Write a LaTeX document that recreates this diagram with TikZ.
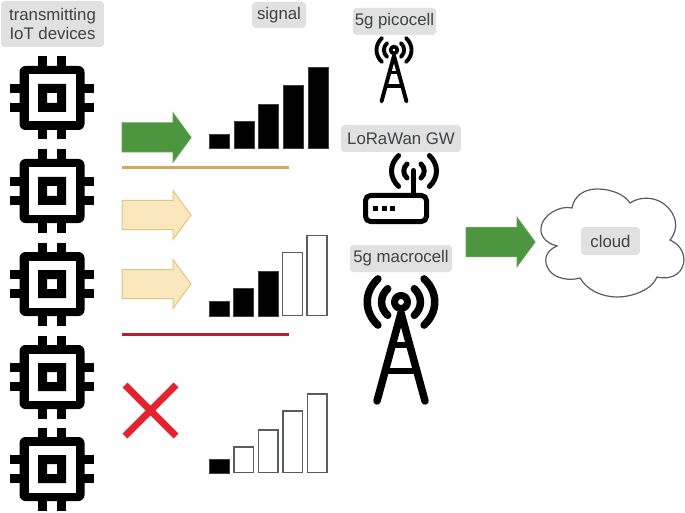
\documentclass[tikz,border=0pt]{standalone}
\usepackage{fontspec}
\setmainfont{Liberation Sans}
\usetikzlibrary{calc}
\definecolor{lblbg}{HTML}{E0E1E0}
\definecolor{lbltx}{HTML}{3F4245}
\definecolor{grn}{HTML}{4C963F}
\definecolor{grnd}{HTML}{5E9E50}
\definecolor{pale}{HTML}{FAE8BC}
\definecolor{paled}{HTML}{E2C582}
\definecolor{tan}{HTML}{D3A95F}
\definecolor{crim}{HTML}{B5202F}
\definecolor{xred}{HTML}{E5232F}
\definecolor{barline}{HTML}{5A5D5F}
\tikzset{
  lbl/.style={fill=lblbg,rounded corners=3.5pt,text=lbltx,font=\fontsize{16.8}{19.5}\selectfont,align=center,inner sep=0pt},
  onbar/.style={fill=black,draw=black!75,line width=.8pt},
  offbar/.style={fill=white,draw=barline,line width=1.5pt},
  rule/.style={line width=3pt},
  icon/.style={draw=black,line cap=round,line join=round},
}
\newcommand{\chipicon}[1]{%
  \begin{scope}[shift={(52,#1)}]
    \fill[black,rounded corners=6pt] (-32.5,-32) rectangle (32.5,32);
    \fill[white] (-23.5,-23.5) rectangle (23.5,23.5);
    \fill[black,even odd rule] (-14,-14) rectangle (14,14) (-5,-5) rectangle (5,5);
    \foreach \p in {-9.5,9.5}{
      \fill[black] (\p-4.5,-41.5) rectangle (\p+4.5,-30);
      \fill[black] (\p-4.5,30) rectangle (\p+4.5,41.5);
      \fill[black] (-42,\p-4.5) rectangle (-30,\p+4.5);
      \fill[black] (30,\p-4.5) rectangle (42,\p+4.5);
    }
  \end{scope}}
\newcommand{\bararrow}[4]{% y, fill, draw, x-offset
  \begin{scope}[shift={(#4,#1)}]
    \filldraw[fill=#2,draw=#3,line width=1pt,line join=miter]
      (122,-14.5) -- (173,-14.5) -- (173,-24.5) -- (191,0) -- (173,24.5) -- (173,14.5) -- (122,14.5) -- cycle;
  \end{scope}}
\newcommand{\towericon}[3]{% x,y,scale
  \begin{scope}[shift={(#1,#2)},x=#3pt,y=-#3pt]
    \draw[icon,line width=#3*7pt] (0,0) circle (6.5);
    \draw[icon,line width=#3*7.5pt] (-24,99) -- (0,11) -- (24,99);
    \draw[draw=black,line width=#3*6.5pt] (-11,43) -- (11,43) (-18,69) -- (18,69);
    \foreach \r in {19,33}{
      \draw[icon,line width=#3*7.5pt] (-\r*0.7,-\r*0.7) .. controls (-\r*1.13,-\r*0.3) and (-\r*1.13,\r*0.3) .. (-\r*0.7,\r*0.7);
      \draw[icon,line width=#3*7.5pt] (\r*0.7,-\r*0.7) .. controls (\r*1.13,-\r*0.3) and (\r*1.13,\r*0.3) .. (\r*0.7,\r*0.7);
    }
  \end{scope}}
\begin{document}
\begin{tikzpicture}[x=1pt,y=-1pt]
\useasboundingbox[fill=white] (0,0) rectangle (685,513);

% labels
\node[lbl,minimum width=103pt,minimum height=46pt] (ltx) at (52.5,24) {transmitting\\IoT devices};
\node[lbl,minimum width=54pt,minimum height=26pt] (lsig) at (279,15) {signal};
\node[lbl,minimum width=83pt,minimum height=27pt] (lpico) at (394.5,21.5) {5g picocell};
\node[lbl,minimum width=120pt,minimum height=27pt] (llora) at (401,138.5) {LoRaWan GW};
\node[lbl,minimum width=102pt,minimum height=27pt] (lmacro) at (401,258.5) {5g macrocell};

% chips
\chipicon{98}
\chipicon{191}
\chipicon{284}
\chipicon{377}
\chipicon{469}

% arrows
\bararrow{137.5}{grn}{grnd}{0}
\bararrow{215}{pale}{paled}{0}
\bararrow{284}{pale}{paled}{0}
\bararrow{242}{grn}{grnd}{344}

% rules
\draw[rule,tan] (122,168) -- (289,168);
\draw[rule,crim] (122,334) -- (289,334);

% cross
\draw[xred,line width=7pt] (125,385) -- (176,436) (176,385) -- (125,436);

% top bars
\foreach \xa/\t in {209/134,234/121,258/104,283/85,308/67}
  \draw[onbar] (\xa,\t) rectangle (\xa+20.5,148);
% middle bars
\foreach \xa/\t in {209/301,233.5/288,258/271}
  \draw[onbar] (\xa,\t) rectangle (\xa+20,316);
\foreach \xa/\t in {282.5/252.5,307/235.5}
  \draw[offbar] (\xa,\t) rectangle (\xa+20,315.5);
% bottom bars
\draw[onbar] (209,459) rectangle (229,473);
\foreach \xa/\t in {234/447,258.5/430,283/411,307.5/394}
  \draw[offbar] (\xa,\t) rectangle (\xa+19.5,472.5);

% towers
\towericon{394}{50}{0.52}
\towericon{401}{302}{1}

% router
\draw[icon,line width=5pt,rounded corners=5pt] (365.5,195.5) rectangle (426.5,221.5);
\draw[icon,line width=5pt] (413.5,194) -- (413.5,170.5);
\foreach \d in {0,1,2}
  \fill[black] (373+\d*8.5,206) rectangle (378+\d*8.5,211);
\foreach \r in {10,22}{
  \draw[icon,line width=5pt] (414-\r*0.7,171-\r*0.7) .. controls (414-\r*1.13,171-\r*0.3) and (414-\r*1.13,171+\r*0.3) .. (414-\r*0.7,171+\r*0.7);
  \draw[icon,line width=5pt] (414+\r*0.7,171-\r*0.7) .. controls (414+\r*1.13,171-\r*0.3) and (414+\r*1.13,171+\r*0.3) .. (414+\r*0.7,171+\r*0.7);
}

% cloud
\draw[barline,line width=1.2pt,fill=white]
  (572,208) .. controls (574,196) and (584,189) .. (597,189)
  .. controls (612,189) and (625,195) .. (630,203)
  .. controls (640,196) and (655,197) .. (664,204)
  .. controls (676,213) and (680,228) .. (670,240)
  .. controls (682,245) and (687,258) .. (682,268)
  .. controls (677,278) and (665,279) .. (657,277)
  .. controls (652,290) and (632,297) .. (617,297)
  .. controls (602,297) and (587,290) .. (580,278)
  .. controls (570,281) and (555,279) .. (549,270)
  .. controls (543,261) and (545,251) .. (557,246)
  .. controls (545,243) and (540,235) .. (541,228)
  .. controls (542,215) and (560,205) .. (572,208) -- cycle;
\node[lbl,minimum width=59pt,minimum height=28pt] (lcloud) at (610.5,241) {cloud};
\end{tikzpicture}
\end{document}
